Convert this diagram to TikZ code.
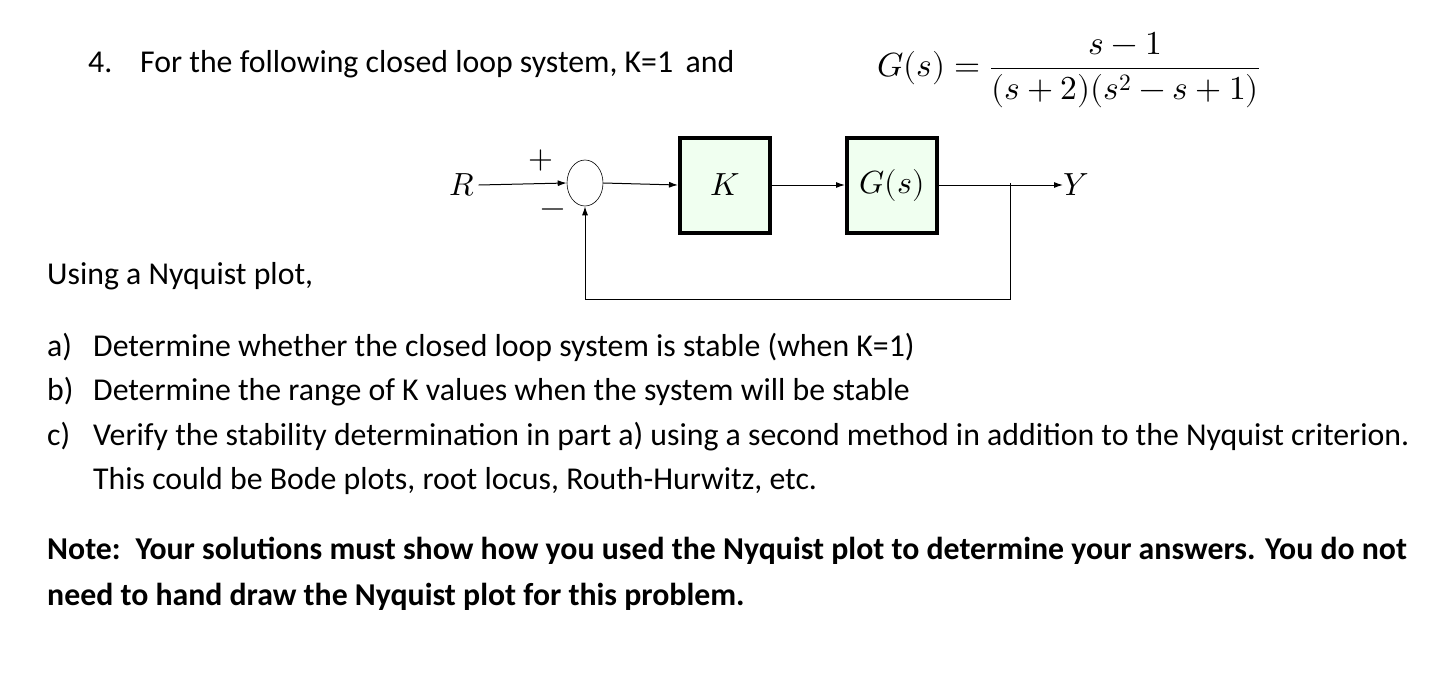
\documentclass[tikz,border=0pt]{standalone}
\usepackage{fontspec}
\setmainfont{Carlito}
\usepackage{unicode-math}
\setmathfont{Latin Modern Math}
\usetikzlibrary{shapes.geometric,arrows.meta}
\begin{document}
\begin{tikzpicture}[x=1pt,y=-1pt,
  txt/.style={anchor=base west,inner sep=0pt,font=\fontsize{31.8}{36}\selectfont},
  btxt/.style={txt,font=\fontsize{31.8}{36}\selectfont\bfseries},
  blk/.style={draw,line width=4pt,fill={rgb,255:red,240;green,255;blue,240},minimum width=90pt,minimum height=95pt,font=\fontsize{32}{36}\selectfont},
  sig/.style={line width=1pt,-{Latex[length=9pt,width=6pt]}},
  mlab/.style={inner sep=0pt,font=\fontsize{32}{36}\selectfont}]
\useasboundingbox (0,0) rectangle (1434,678);
\node[txt] (n4) at (88,72) {4.};
\node[txt] (t1) at (140,72) {For the following closed loop system, K=1\, and};
\node[mlab,anchor=west,font=\fontsize{33.5}{38}\selectfont] (eq) at (877,70) {$G(s)=\dfrac{s-1}{(s+2)(s^2-s+1)}$};
\node[mlab,inner xsep=4pt] (R) at (462,185) {$R$};
\node[draw,ellipse,line width=0.6pt,minimum width=36pt,minimum height=46pt,inner sep=0pt] (sum) at (585,183) {};
\node[mlab] (plus) at (541,160) {$+$};
\node[mlab] (minus) at (553,213) {$-$};
\node[blk] (K) at (725,185) {$K$};
\node[blk] (G) at (892,185) {$G(s)$};
\node[mlab,anchor=west] (Y) at (1063,185) {$Y$};
\coordinate (br) at (1010,183);
\coordinate (fb1) at (1010,299);
\coordinate (fb2) at (585,299);
\draw[sig] (R.east) -- (sum.west);
\draw[sig] (sum.east) -- (K.west);
\draw[sig] (K.east) -- (G.west);
\draw[sig] (G.east) -- (Y.west);
\draw[sig] (br) -- (fb1) -- (fb2) -- (sum.south);
\node[txt] (u) at (47,284) {Using a Nyquist plot,};
\node[txt] (la) at (47,356) {a)};
\node[txt] (a) at (93,356) {Determine whether the closed loop system is stable (when K=1)};
\node[txt] (lb) at (47,400) {b)};
\node[txt] (b) at (93,400) {Determine the range of K values when the system will be stable};
\node[txt] (lc) at (47,445) {c)};
\node[txt] (c) at (93,445) {Verify the stability determination in part a) using a second method in addition to the Nyquist criterion.};
\node[txt] (c2) at (93,489) {This could be Bode plots, root locus, Routh-Hurwitz, etc.};
\node[btxt] (n1) at (47,559) {Note:\, Your solutions must show how you used the Nyquist plot to determine your answers. You do not};
\node[btxt] (n2) at (47,605) {need to hand draw the Nyquist plot for this problem.};
\end{tikzpicture}
\end{document}
